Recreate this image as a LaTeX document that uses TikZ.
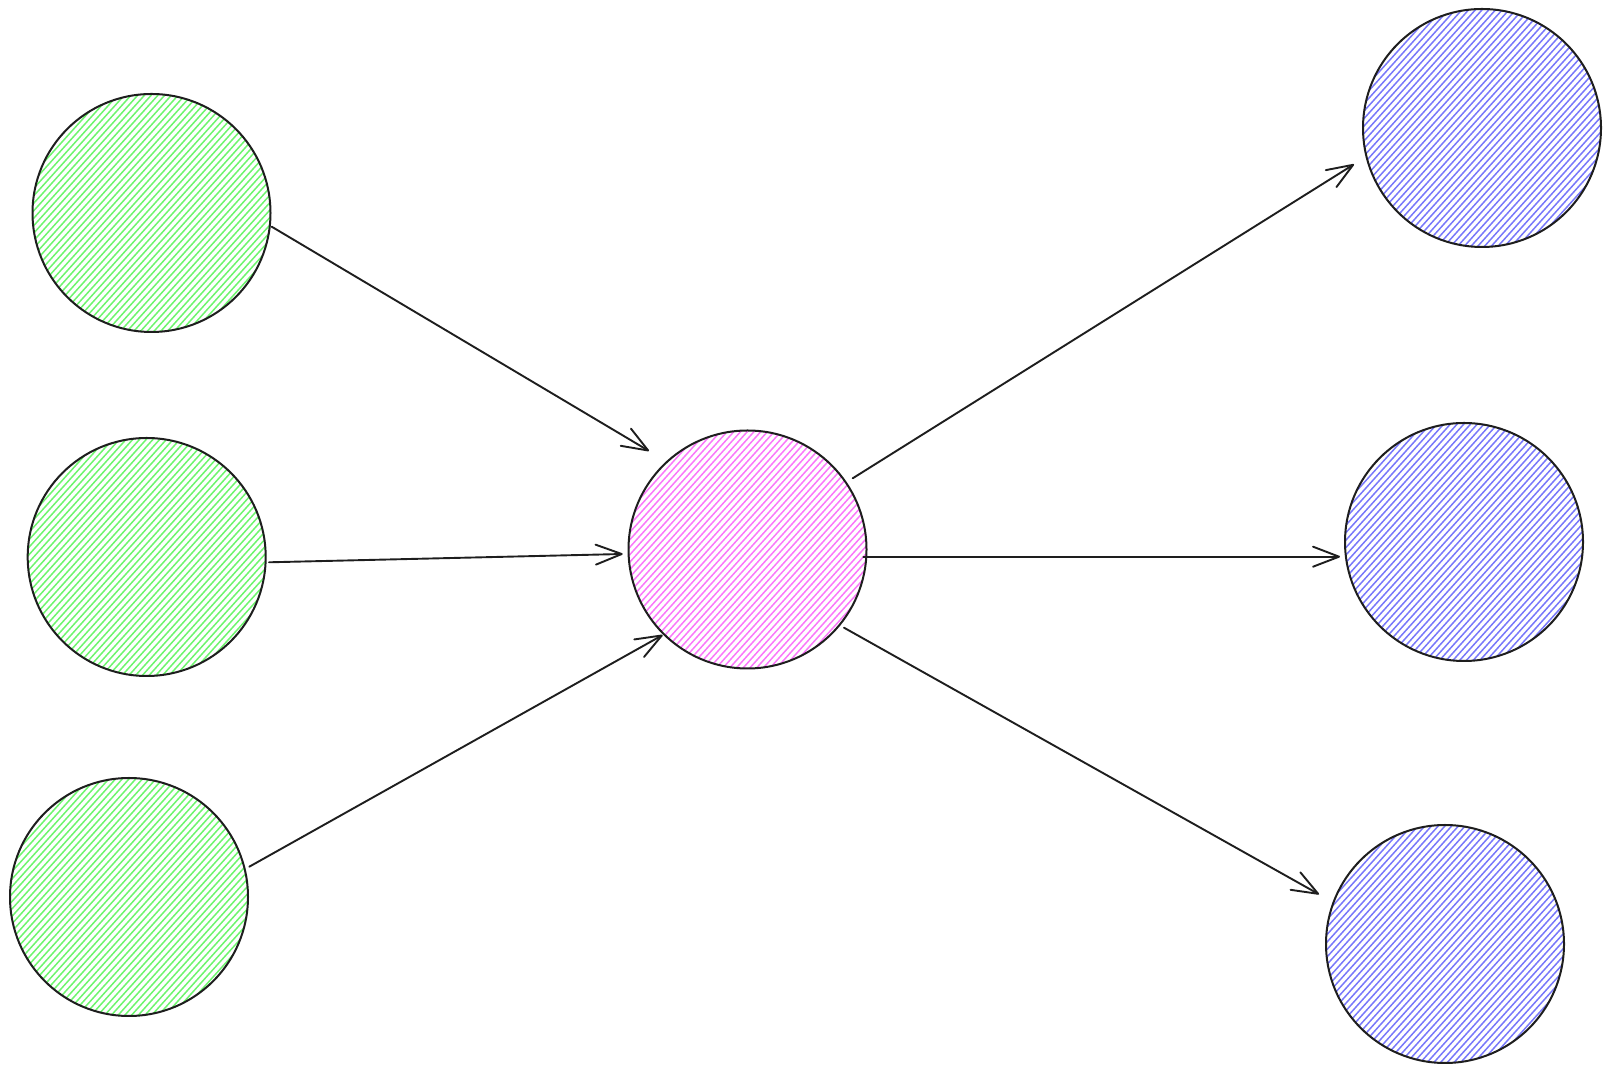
\documentclass[tikz,border=0pt]{standalone}
\usetikzlibrary{arrows.meta,calc}
\definecolor{ink}{RGB}{30,30,30}
\definecolor{hgreen}{RGB}{110,245,110}
\definecolor{hpink}{RGB}{250,120,250}
\definecolor{hblue}{RGB}{120,120,250}
\tikzset{
  ball/.style={circle, draw=ink, line width=2pt, minimum size=238pt, inner sep=0pt,
    path picture={
      \coordinate (hc) at (path picture bounding box.center);
      \foreach \k in {-126,-121,...,126}
        \draw[#1, line width=1.5pt] ($(hc)+(138:\k)+(48:-130)$) -- ($(hc)+(138:\k)+(48:130)$);
    }},
  conn/.style={draw=ink, line width=1.9pt, line cap=round,
    -{Straight Barb[length=26pt,width=20pt,line cap=round,line join=round]}}
}
\begin{document}
\begin{tikzpicture}[x=1pt,y=1pt]
\useasboundingbox (0,0) rectangle (1611,1073);
\node[ball=hgreen] (g1) at (151.5,860) {};
\node[ball=hgreen] (g2) at (146.7,516) {};
\node[ball=hgreen] (g3) at (129,176) {};
\node[ball=hpink]  (p)  at (747.5,523.5) {};
\node[ball=hblue]  (b1) at (1482,945) {};
\node[ball=hblue]  (b2) at (1464,531) {};
\node[ball=hblue]  (b3) at (1445,129) {};

\draw[conn] ($(g1)+(120.2,-13.7)$) -- ($(p)+(-98.5,98.5)$);
\draw[conn] ($(g2)+(122.3,-5.3)$) -- ($(p)+(-124.8,-4.5)$);
\draw[conn] ($(g3)+(120.3,30.3)$) -- ($(p)+(-84.8,-85.5)$);
\draw[conn] ($(p)+(105.2,71.2)$) -- ($(b1)+(-128,-36.3)$);
\draw[conn] ($(p)+(115.8,-7.2)$) -- ($(b2)+(-124,-14.7)$);
\draw[conn] ($(p)+(96.5,-78.2)$) -- ($(b3)+(-126,49.7)$);
\end{tikzpicture}
\end{document}
